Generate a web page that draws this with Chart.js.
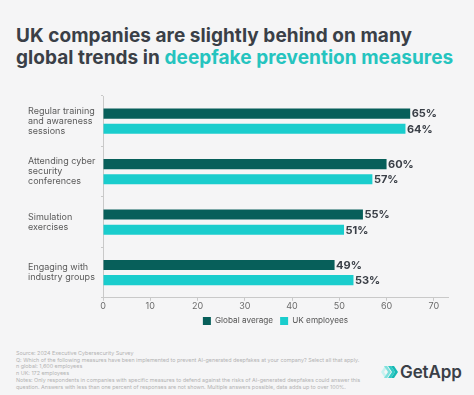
<!DOCTYPE html>
<html>
<head>
<meta charset="utf-8">
<script src="https://cdn.jsdelivr.net/npm/chart.js@4.4.0/dist/chart.umd.min.js"></script>
<style>
  html, body { margin:0; padding:0; }
  body { width:474px; height:395px; background:#f5f5f6; position:relative; overflow:hidden; font-family: Inter, "Noto Sans", sans-serif; }
  #title { position:absolute; left:16px; top:25px; font-size:19px; font-weight:700; line-height:22px; color:#3a3f47; letter-spacing:0.05px; white-space:nowrap; }
  #title span { color:#25c4bf; }
  #wrap { position:absolute; left:0; top:80px; width:474px; height:259px; }
  #foot { position:absolute; left:16px; top:350px; font-size:5.4px; line-height:6.7px; color:#b3b3b3; white-space:nowrap; }
  #logo { position:absolute; left:380px; top:362px; height:20px; display:flex; align-items:center; }
  #logo .t { font-size:17px; font-weight:600; color:#3a3f47; margin-left:2px; letter-spacing:-0.1px; }
</style>
</head>
<body>
<div id="title">UK companies are slightly behind on many<br>global trends in <span>deepfake prevention measures</span></div>
<div id="wrap"><canvas id="c"></canvas></div>
<div id="foot">
Source: 2024 Executive Cybersecurity Survey<br>
Q: Which of the following measures have been implemented to prevent AI-generated deepfakes at your company? Select all that apply.<br>
n global: 1,600 employees<br>
n UK: 172 employees<br>
Notes: Only respondents in companies with specific measures to defend against the risks of AI-generated deepfakes could answer this<br>
question. Answers with less than one percent of responses are not shown. Multiple answers possible, data adds up to over 100%.
</div>
<div id="logo">
  <svg width="18" height="12" viewBox="0 0 18 12">
    <path d="M0 6 L4 0 L7 0 L3 6 L7 12 L4 12 Z" fill="#c6f2f0" transform="translate(1,0)"/>
    <path d="M4 0 L7 0 L11 6 L7 12 L4 12 L8 6 Z" fill="#7fe0dc"/>
    <path d="M8 0 L11 0 L15 6 L11 12 L8 12 L12 6 Z" fill="#2fcac5"/>
    <path d="M11 0 L14 0 L18 6 L14 12 L11 12 L15 6 Z" fill="#16b9b4"/>
  </svg>
  <span class="t">GetApp</span>
</div>
<script>
const categories = [
  ["Regular training", "and awareness", "sessions"],
  ["Attending cyber", "security", "conferences"],
  ["Simulation", "exercises"],
  ["Engaging with", "industry groups"]
];
const seriesNames = ["Global average", "UK employees"];
const globalAverage = [65, 60, 55, 49];
const ukEmployees = [64, 57, 51, 53];
const xTicks = [0, 10, 20, 30, 40, 50, 60, 70];

const FONT = 'Inter, "Noto Sans", sans-serif';

const valueLabels = {
  id: 'valueLabels',
  afterDatasetsDraw(chart) {
    const ctx = chart.ctx;
    ctx.save();
    ctx.font = '700 11px ' + FONT;
    ctx.fillStyle = '#3a3f47';
    ctx.textAlign = 'left';
    ctx.textBaseline = 'middle';
    chart.data.datasets.forEach((ds, i) => {
      chart.getDatasetMeta(i).data.forEach((bar, j) => {
        ctx.fillText(ds.data[j] + '%', bar.x + 1.5, bar.y + 0.5);
      });
    });
    ctx.restore();
  }
};

const centerLegend = {
  id: 'centerLegend',
  afterLayout(chart) {
    const lg = chart.legend;
    if (lg) {
      lg.left = chart.chartArea.left;
      lg.right = chart.chartArea.right;
      lg.width = lg.right - lg.left;
    }
  }
};

new Chart(document.getElementById('c'), {
  type: 'bar',
  data: {
    labels: categories,
    datasets: [
      { label: seriesNames[0], data: globalAverage, backgroundColor: '#075f5a', categoryPercentage: 0.6, barPercentage: 0.667 },
      { label: seriesNames[1], data: ukEmployees, backgroundColor: '#1acdcd', categoryPercentage: 0.6, barPercentage: 0.667 }
    ]
  },
  options: {
    indexAxis: 'y',
    responsive: true,
    maintainAspectRatio: false,
    animation: false,
    layout: { padding: { left: 28, right: 26, top: 16, bottom: 4 } },
    scales: {
      x: {
        min: 0, max: 73,
        afterBuildTicks: axis => { axis.ticks = xTicks.map(v => ({ value: v })); },
        afterFit: axis => { axis.height = 12; },
        border: { display: true, color: '#c9c9c9', width: 1 },
        grid: { display: true, drawOnChartArea: false, drawTicks: true, tickLength: 3, color: '#c9c9c9' },
        ticks: { color: '#6b6b6b', font: { family: FONT, size: 9 }, padding: 0, maxRotation: 0 }
      },
      y: {
        border: { display: true, color: '#c9c9c9', width: 1 },
        grid: { display: true, drawOnChartArea: false, drawTicks: true, tickLength: 2, color: '#c9c9c9' },
        afterFit: axis => { axis.width = 75; },
        ticks: { crossAlign: 'far', color: '#5a5a5a', font: { family: FONT, size: 9, lineHeight: 1.1 }, padding: 4 }
      }
    },
    plugins: {
      legend: {
        position: 'bottom',
        fullSize: false,
        labels: { boxWidth: 8, boxHeight: 8, color: '#555', font: { family: FONT, size: 8.2 }, padding: 7 }
      },
      tooltip: { enabled: false }
    }
  },
  plugins: [valueLabels, centerLegend]
});
</script>
</body>
</html>
